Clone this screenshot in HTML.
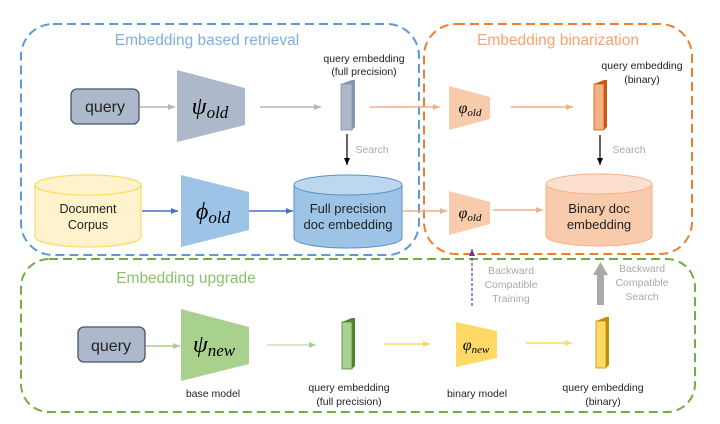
<!DOCTYPE html>
<html><head><meta charset="utf-8"><style>
html,body{margin:0;padding:0;background:#fff;}
svg{display:block;font-family:"Liberation Sans",sans-serif;}
.m{font-family:"Liberation Serif",serif;font-style:italic;}
</style></head><body>
<svg width="720" height="424" viewBox="0 0 720 424" xmlns="http://www.w3.org/2000/svg">
<defs>
<marker id="ag" markerWidth="8" markerHeight="8" refX="7" refY="4" orient="auto" markerUnits="userSpaceOnUse"><path d="M0,1 L7,4 L0,7 z" fill="#adb9ca"/></marker>
<marker id="ab" markerWidth="8" markerHeight="8" refX="7" refY="4" orient="auto" markerUnits="userSpaceOnUse"><path d="M0,1 L7,4 L0,7 z" fill="#4472c4"/></marker>
<marker id="ao" markerWidth="8" markerHeight="8" refX="7" refY="4" orient="auto" markerUnits="userSpaceOnUse"><path d="M0,1 L7,4 L0,7 z" fill="#f4b183"/></marker>
<marker id="ak" markerWidth="8" markerHeight="8" refX="7" refY="4" orient="auto" markerUnits="userSpaceOnUse"><path d="M0,1 L7,4 L0,7 z" fill="#000"/></marker>
<marker id="agr" markerWidth="8" markerHeight="8" refX="7" refY="4" orient="auto" markerUnits="userSpaceOnUse"><path d="M0,1 L7,4 L0,7 z" fill="#a9d18e"/></marker>
<marker id="ay" markerWidth="8" markerHeight="8" refX="7" refY="4" orient="auto" markerUnits="userSpaceOnUse"><path d="M0,1 L7,4 L0,7 z" fill="#ffd966"/></marker>
<marker id="ap" markerWidth="8" markerHeight="8" refX="7" refY="4" orient="auto" markerUnits="userSpaceOnUse"><path d="M0,1 L7,4 L0,7 z" fill="#7030a0"/></marker>
</defs>

<!-- group boxes -->
<rect x="21" y="24" width="398" height="231" rx="32" fill="none" stroke="#5b9bd5" stroke-width="2" stroke-dasharray="9,5"/>
<rect x="424" y="24" width="268" height="230" rx="32" fill="none" stroke="#ed7d31" stroke-width="2" stroke-dasharray="9,5"/>
<rect x="21" y="259" width="674" height="153" rx="28" fill="none" stroke="#70ad47" stroke-width="2" stroke-dasharray="9,5"/>

<text x="207" y="45" font-size="15.5" fill="#7fb0e0" text-anchor="middle">Embedding based retrieval</text>
<text x="558" y="45" font-size="15.5" fill="#f4a470" text-anchor="middle">Embedding binarization</text>
<text x="186" y="283" font-size="15.5" fill="#8cc16a" text-anchor="middle">Embedding upgrade</text>

<!-- top row -->
<rect x="71" y="89" width="68" height="35" rx="6" fill="#adb9ca" stroke="#44546a" stroke-width="1.3"/>
<text x="105" y="112" font-size="16" fill="#222" text-anchor="middle">query</text>
<line x1="140" y1="107" x2="175" y2="107" stroke="#adb9ca" stroke-width="1.5" marker-end="url(#ag)"/>
<polygon points="177,70 245,88 245,125 177,142" fill="#adb9ca"/>
<text x="210" y="114" font-size="24" class="m" text-anchor="middle">ψ<tspan font-size="17" dy="4">old</tspan></text>
<line x1="260" y1="107" x2="321" y2="107" stroke="#adb9ca" stroke-width="1.5" marker-end="url(#ag)"/>
<polygon points="341,84 352,80 355,80 355,127 352,130 341,130" fill="#8497b0"/>
<rect x="341" y="84" width="11" height="46" fill="#adb9ca" stroke="#8497b0" stroke-width="0.8"/>
<text x="364" y="62" font-size="10.5" fill="#222" text-anchor="middle">query embedding</text>
<text x="364" y="75" font-size="10.5" fill="#222" text-anchor="middle">(full precision)</text>
<line x1="347" y1="134" x2="347" y2="165" stroke="#000" stroke-width="1.2" marker-end="url(#ak)"/>
<text x="372" y="153" font-size="10.5" fill="#aaa" text-anchor="middle">Search</text>
<line x1="370" y1="107" x2="440" y2="107" stroke="#f4b183" stroke-width="1.5" marker-end="url(#ao)"/>

<!-- doc row -->
<path d="M35,185 L35,237 A53,10 0 0 0 141,237 L141,185" fill="#fff2cc" stroke="#ffd966" stroke-width="1.2"/>
<ellipse cx="88" cy="185" rx="53" ry="10" fill="#fff2cc" stroke="#ffd966" stroke-width="1.2"/>
<text x="88" y="213" font-size="12.5" fill="#222" text-anchor="middle">Document</text>
<text x="88" y="229" font-size="12.5" fill="#222" text-anchor="middle">Corpus</text>
<line x1="142" y1="211" x2="178" y2="211" stroke="#4472c4" stroke-width="1.5" marker-end="url(#ab)"/>
<polygon points="181,175 249,192 249,230 181,247" fill="#9dc3e6"/>
<text x="213" y="219" font-size="24" class="m" text-anchor="middle">ϕ<tspan font-size="17" dy="4">old</tspan></text>
<line x1="249" y1="211" x2="293" y2="211" stroke="#4472c4" stroke-width="1.5" marker-end="url(#ab)"/>
<path d="M294,185 L294,238 A54,10 0 0 0 402,238 L402,185" fill="#9dc3e6" stroke="#5b8fc8" stroke-width="1"/>
<ellipse cx="348" cy="185" rx="54" ry="10" fill="#bdd7ee" stroke="#5b8fc8" stroke-width="1"/>
<text x="348" y="213" font-size="13" fill="#222" text-anchor="middle">Full precision</text>
<text x="348" y="229" font-size="13" fill="#222" text-anchor="middle">doc embedding</text>
<line x1="403" y1="211" x2="447" y2="211" stroke="#f4b183" stroke-width="1.5" marker-end="url(#ao)"/>

<!-- binarization -->
<polygon points="449,86 490,97 490,119 449,130" fill="#f8cbad"/>
<text x="470" y="113" font-size="16" class="m" text-anchor="middle">φ<tspan font-size="11" dy="3">old</tspan></text>
<line x1="511" y1="107" x2="573" y2="107" stroke="#f4b183" stroke-width="1.5" marker-end="url(#ao)"/>
<polygon points="594,84 604,80 607,80 607,127 604,130 594,130" fill="#c55a11"/>
<rect x="594" y="84" width="10" height="46" fill="#f4b183" stroke="#c55a11" stroke-width="0.8"/>
<text x="642" y="69" font-size="10.5" fill="#222" text-anchor="middle">query embedding</text>
<text x="642" y="83" font-size="10.5" fill="#222" text-anchor="middle">(binary)</text>
<line x1="600" y1="135" x2="600" y2="165" stroke="#000" stroke-width="1.2" marker-end="url(#ak)"/>
<text x="629" y="153" font-size="10.5" fill="#aaa" text-anchor="middle">Search</text>
<polygon points="449,191 490,202 490,224 449,235" fill="#f8cbad"/>
<text x="470" y="218" font-size="16" class="m" text-anchor="middle">φ<tspan font-size="11" dy="3">old</tspan></text>
<line x1="493" y1="210" x2="543" y2="210" stroke="#f4b183" stroke-width="1.5" marker-end="url(#ao)"/>
<path d="M546,184 L546,236 A53,10 0 0 0 652,236 L652,184" fill="#f8cbad" stroke="#f4b183" stroke-width="1"/>
<ellipse cx="599" cy="184" rx="53" ry="10" fill="#fbe0cf" stroke="#f4b183" stroke-width="1"/>
<text x="599" y="213" font-size="13" fill="#222" text-anchor="middle">Binary doc</text>
<text x="599" y="229" font-size="13" fill="#222" text-anchor="middle">embedding</text>

<!-- backward arrows -->
<line x1="472" y1="306" x2="472" y2="249" stroke="#7030a0" stroke-width="1.2" stroke-dasharray="3,2" marker-end="url(#ap)"/>
<text x="511" y="274" font-size="10.5" fill="#aaa" text-anchor="middle">Backward</text>
<text x="511" y="288" font-size="10.5" fill="#aaa" text-anchor="middle">Compatible</text>
<text x="511" y="302" font-size="10.5" fill="#aaa" text-anchor="middle">Training</text>
<rect x="597" y="274" width="7" height="31" fill="#aaa"/>
<polygon points="593,275 608,275 600.5,262" fill="#aaa"/>
<text x="642" y="272" font-size="10.5" fill="#aaa" text-anchor="middle">Backward</text>
<text x="642" y="286" font-size="10.5" fill="#aaa" text-anchor="middle">Compatible</text>
<text x="642" y="300" font-size="10.5" fill="#aaa" text-anchor="middle">Search</text>

<!-- upgrade row -->
<rect x="78" y="327" width="67" height="35" rx="6" fill="#adb9ca" stroke="#44546a" stroke-width="1.3"/>
<text x="111" y="351" font-size="16" fill="#222" text-anchor="middle">query</text>
<line x1="146" y1="346" x2="180" y2="346" stroke="#a9d18e" stroke-width="1.5" marker-end="url(#agr)"/>
<polygon points="181,309 249,327 249,364 181,381" fill="#a9d18e"/>
<text x="214" y="352" font-size="24" class="m" text-anchor="middle">ψ<tspan font-size="17" dy="4">new</tspan></text>
<line x1="267" y1="345" x2="316" y2="345" stroke="#c5e0b4" stroke-width="1.5" marker-end="url(#agr)"/>
<polygon points="342,322 352,318 355,318 355,366 352,369 342,369" fill="#548235"/>
<rect x="342" y="322" width="10" height="47" fill="#a9d18e" stroke="#548235" stroke-width="0.8"/>
<text x="349" y="391" font-size="10.5" fill="#222" text-anchor="middle">query embedding</text>
<text x="349" y="405" font-size="10.5" fill="#222" text-anchor="middle">(full precision)</text>
<text x="213" y="397" font-size="10.5" fill="#222" text-anchor="middle">base model</text>
<line x1="384" y1="344" x2="430" y2="344" stroke="#ffd966" stroke-width="1.5" marker-end="url(#ay)"/>
<polygon points="456,322 497,331 497,358 456,367" fill="#ffd966"/>
<text x="476" y="350" font-size="16" class="m" text-anchor="middle">φ<tspan font-size="11" dy="3">new</tspan></text>
<text x="477" y="397" font-size="10.5" fill="#222" text-anchor="middle">binary model</text>
<line x1="526" y1="343" x2="572" y2="343" stroke="#ffd966" stroke-width="1.5" marker-end="url(#ay)"/>
<polygon points="596,321 606,317 609,317 609,365 606,368 596,368" fill="#bf9000"/>
<rect x="596" y="321" width="10" height="47" fill="#ffd966" stroke="#bf9000" stroke-width="0.8"/>
<text x="603" y="391" font-size="10.5" fill="#222" text-anchor="middle">query embedding</text>
<text x="603" y="405" font-size="10.5" fill="#222" text-anchor="middle">(binary)</text>
</svg>
</body></html>
